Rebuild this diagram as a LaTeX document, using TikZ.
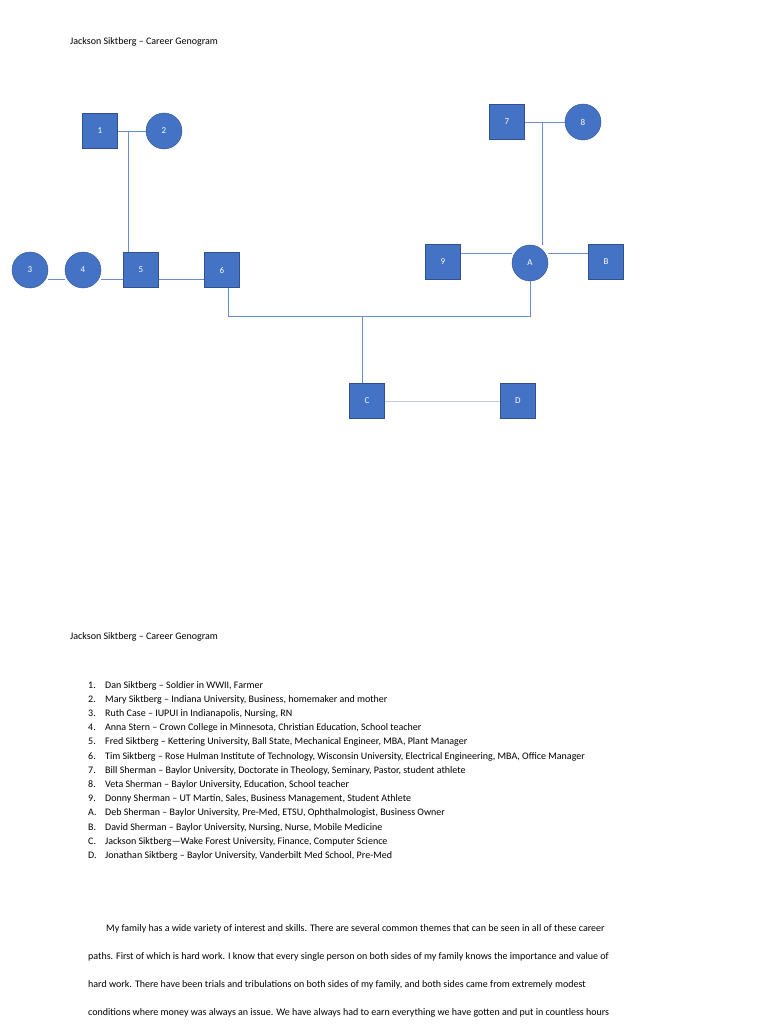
\documentclass[tikz,border=0pt]{standalone}
\usepackage{fontspec}
\setmainfont{Carlito}
\begin{document}
\begin{tikzpicture}[x=1pt,y=-1pt,
  sq/.style={draw=blue!40!black!70!cyan!50,fill=boxblue,minimum size=35pt,inner sep=0pt,text=white,font=\fontsize{9}{10}\selectfont},
  ci/.style={circle,draw=boxedge,fill=boxblue,minimum size=36pt,inner sep=0pt,text=white,font=\fontsize{9}{10}\selectfont},
  ln/.style={draw=boxblue!80,line width=0.8pt},
  tx/.style={anchor=base west,inner sep=0pt,font=\fontsize{10}{12}\selectfont}]
\definecolor{boxblue}{HTML}{4472C4}
\definecolor{boxedge}{HTML}{2F528F}
\tikzset{sq/.append style={draw=boxedge}}
\useasboundingbox (0,0) rectangle (768,1024);
\fill[white] (0,0) rectangle (768,1024);
\node[tx] (t1) at (70,45) {Jackson Siktberg – Career Genogram};
% nodes
\node[sq] (n1) at (100,131) {1};
\node[ci] (n2) at (164,131) {2};
\node[ci] (n3) at (30,270) {3};
\node[ci] (n4) at (83,270) {4};
\node[sq] (n5) at (141,270) {5};
\node[sq] (n6) at (222,270) {6};
\node[sq] (n7) at (507,122) {7};
\node[ci] (n8) at (583,122) {8};
\node[sq] (n9) at (443,262) {9};
\node[ci] (nA) at (530,263) {A};
\node[sq] (nB) at (606,262) {B};
\node[sq] (nC) at (367,401) {C};
\node[sq] (nD) at (518,401) {D};
\coordinate (j12) at (128,131);
\coordinate (j78) at (542,122);
% connectors
\begin{scope}[on background layer/.style={}]
\draw[ln] (n1.east) -- (n2.west);
\draw[ln] (j12) -- (j12 |- n5.north);
\draw[ln] (n3.east |- 0,279) -- (n4.west |- 0,279);
\draw[ln] (n4.east |- 0,279) -- (n5.west |- 0,279);
\draw[ln] (n5.east |- 0,279) -- (n6.west |- 0,279);
\draw[ln] (n7.east) -- (n8.west);
\draw[ln] (j78) -- (j78 |- nA.north);
\draw[ln] (n9.east |- 0,253) -- (nA.west |- 0,253);
\draw[ln] (nA.east |- 0,253) -- (nB.west |- 0,253);
\draw[ln] (n6.south -| 228,0) |- (530,316) -- (nA.south);
\draw[ln] (362,316) -- (362,0 |- nC.north);
\draw[draw=boxblue!35,line width=0.8pt] (nC.east) -- (nD.west);
\end{scope}
\node[tx] (t2) at (70,639) {Jackson Siktberg – Career Genogram};
\foreach \n/\t [count=\i from 0] in {
1./Dan Siktberg – Soldier in WWII{,} Farmer,
2./Mary Siktberg – Indiana University{,} Business{,} homemaker and mother,
3./Ruth Case – IUPUI in Indianapolis{,} Nursing{,} RN,
4./Anna Stern – Crown College in Minnesota{,} Christian Education{,} School teacher,
5./Fred Siktberg – Kettering University{,} Ball State{,} Mechanical Engineer{,} MBA{,} Plant Manager,
6./Tim Siktberg – Rose Hulman Institute of Technology{,} Wisconsin University{,} Electrical Engineering{,} MBA{,} Office Manager,
7./Bill Sherman – Baylor University{,} Doctorate in Theology{,} Seminary{,} Pastor{,} student athlete,
8./Veta Sherman -- Baylor University{,} Education{,} School teacher,
9./Donny Sherman – UT Martin{,} Sales{,} Business Management{,} Student Athlete,
A./Deb Sherman -- Baylor University{,} Pre-Med{,} ETSU{,} Ophthalmologist{,} Business Owner,
B./David Sherman -- Baylor University{,} Nursing{,} Nurse{,} Mobile Medicine,
C./Jackson Siktberg—Wake Forest University{,} Finance{,} Computer Science,
D./Jonathan Siktberg -- Baylor University{,} Vanderbilt Med School{,} Pre-Med}{
  \node[tx] (l\i) at (88,{688+14.2*\i}) {\n};
  \node[tx] (m\i) at (105,{688+14.2*\i}) {\t};
}
\node[tx] (p1) at (106,931) {My family has a wide variety of interest and skills. There are several common themes that can be seen in all of these career};
\node[tx] (p2) at (88,959) {paths. First of which is hard work. I know that every single person on both sides of my family knows the importance and value of};
\node[tx] (p3) at (88,987) {hard work. There have been trials and tribulations on both sides of my family, and both sides came from extremely modest};
\node[tx] (p4) at (88,1015) {conditions where money was always an issue. We have always had to earn everything we have gotten and put in countless hours};
\end{tikzpicture}
\end{document}
